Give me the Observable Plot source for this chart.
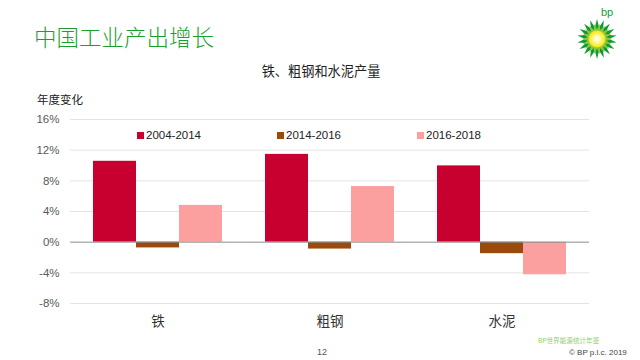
<!DOCTYPE html>
<html>
<head>
<meta charset="utf-8">
<script src="https://cdn.jsdelivr.net/npm/d3@7"></script>
<script src="https://cdn.jsdelivr.net/npm/@observablehq/plot@0.6"></script>
<style>
  html, body { margin: 0; padding: 0; background: #fff; }
  #wrap { position: relative; width: 640px; height: 360px; overflow: hidden;
    font-family: "Liberation Sans", "Noto Sans CJK SC", sans-serif; }
  .abs { position: absolute; white-space: nowrap; }
  #chart { position: absolute; left: 0; top: 0; }
  .leg { position: absolute; top: 129px; font-size: 11.5px; color: #222; display: flex; align-items: center; }
  .leg span.sw { display: inline-block; width: 7px; height: 7px; margin-right: 2px; }
</style>
</head>
<body>
<div id="wrap">
  <div id="chart"></div>
  <div class="abs" style="left:34px;top:20px;font-size:22.5px;color:#18a02e;font-family:'Noto Sans CJK SC',sans-serif;font-weight:300;line-height:32px;">中国工业产出增长</div>
  <div class="abs" style="left:0;width:642px;text-align:center;top:61px;font-size:13.2px;color:#222;font-family:'Noto Sans CJK SC',sans-serif;line-height:20px;">铁、粗钢和水泥产量</div>
  <div class="abs" style="left:37px;top:91px;font-size:11.5px;color:#222;font-family:'Noto Sans CJK SC',sans-serif;line-height:16px;">年度变化</div>
  <div id="legend"></div>
  <div class="abs" style="left:538px;top:336px;font-size:6.6px;color:#92cf6e;font-family:'Noto Sans CJK SC',sans-serif;line-height:9px;">BP世界能源统计年鉴</div>
  <div class="abs" style="left:317px;top:347px;font-size:9px;color:#555;line-height:11px;">12</div>
  <div class="abs" style="left:569px;top:348px;font-size:8px;color:#444;line-height:10px;">© BP p.l.c. 2019</div>
  <div class="abs" style="left:601px;top:6px;font-size:11px;color:#1a9a3a;line-height:13px;">bp</div>
  <svg class="abs" style="left:576px;top:18px" width="42" height="42" viewBox="-21 -21 42 42">
    <defs>
      <radialGradient id="core">
        <stop offset="0" stop-color="#ffffff"/>
        <stop offset="0.35" stop-color="#fffbb0"/>
        <stop offset="1" stop-color="#f7e600"/>
      </radialGradient>
    </defs>
    <g id="rays"></g>
    <circle r="8.5" fill="url(#core)"/>
  </svg>
</div>
<script>
const categories = ["铁", "粗钢", "水泥"];
const series = ["2004-2014", "2014-2016", "2016-2018"];
const values2004_2014 = [10.55, 11.45, 9.95];
const values2014_2016 = [-0.75, -0.9, -1.5];
const values2016_2018 = [4.8, 7.25, -4.25];
const yTicks = [-8, -4, 0, 4, 8, 12, 16];
const colors = ["#c8002f", "#9c4a0c", "#fb9f9f"];

const seriesValues = [values2004_2014, values2014_2016, values2016_2018];
const key = (c, s) => c + "|" + s;
const data = categories.flatMap((c, i) =>
  series.map((s, j) => ({category: c, series: s, key: key(c, s), value: seriesValues[j][i]}))
);
// band domain: the bars of each category, with one empty slot between groups
const xDomain = categories.flatMap((c, i) =>
  (i > 0 ? ["gap" + i] : []).concat(series.map(s => key(c, s)))
);
const labelKeys = categories.map(c => key(c, series[1]));

// legend (HTML)
const legendLeft = [137, 277, 417];
const legend = document.getElementById("legend");
series.forEach((s, j) => {
  const d = document.createElement("div");
  d.className = "leg";
  d.style.left = legendLeft[j] + "px";
  d.innerHTML = `<span class="sw" style="background:${colors[j]}"></span>${s}`;
  legend.appendChild(d);
});

// logo rays (decorative)
const rays = document.getElementById("rays");
const ns = "http://www.w3.org/2000/svg";
function star(n, rOut, rIn, fill, rot) {
  const pts = [];
  for (let k = 0; k < 2 * n; k++) {
    const r = k % 2 === 0 ? rOut : rIn;
    const a = rot + Math.PI * k / n;
    pts.push((r * Math.sin(a)).toFixed(2) + "," + (-r * Math.cos(a)).toFixed(2));
  }
  const p = document.createElementNS(ns, "polygon");
  p.setAttribute("points", pts.join(" "));
  p.setAttribute("fill", fill);
  rays.appendChild(p);
}
star(18, 20, 12, "#0f9a35", 0);
star(18, 15.5, 9.5, "#8cc63f", Math.PI / 18);

const chart = Plot.plot({
  width: 640,
  height: 360,
  marginTop: 119,
  marginBottom: 57,
  marginLeft: 70,
  marginRight: 51,
  style: {fontFamily: "'Liberation Sans', 'Noto Sans CJK SC', sans-serif", background: "transparent", color: "#222"},
  x: {domain: xDomain, paddingInner: 0, paddingOuter: 0.5, label: null},
  y: {domain: [-8, 16], label: null},
  color: {domain: series, range: colors},
  marks: [
    Plot.gridY(yTicks.filter(d => d !== 0), {stroke: "#e4e4e4", strokeOpacity: 1}),
    Plot.barY(data, {x: "key", y: "value", fill: "series"}),
    Plot.ruleY([0], {stroke: "#8c8c8c"}),
    Plot.axisY({ticks: yTicks, tickFormat: d => d + "%", tickSize: 0, tickPadding: 11, fontSize: 11.5, color: "#595959", label: null}),
    Plot.axisX({ticks: labelKeys, tickFormat: k => k.split("|")[0], tickSize: 0, tickPadding: 12.5, fontSize: 13.5, fontFamily: "'Noto Sans CJK SC', sans-serif", color: "#333", label: null})
  ]
});
document.getElementById("chart").appendChild(chart);
</script>
</body>
</html>
